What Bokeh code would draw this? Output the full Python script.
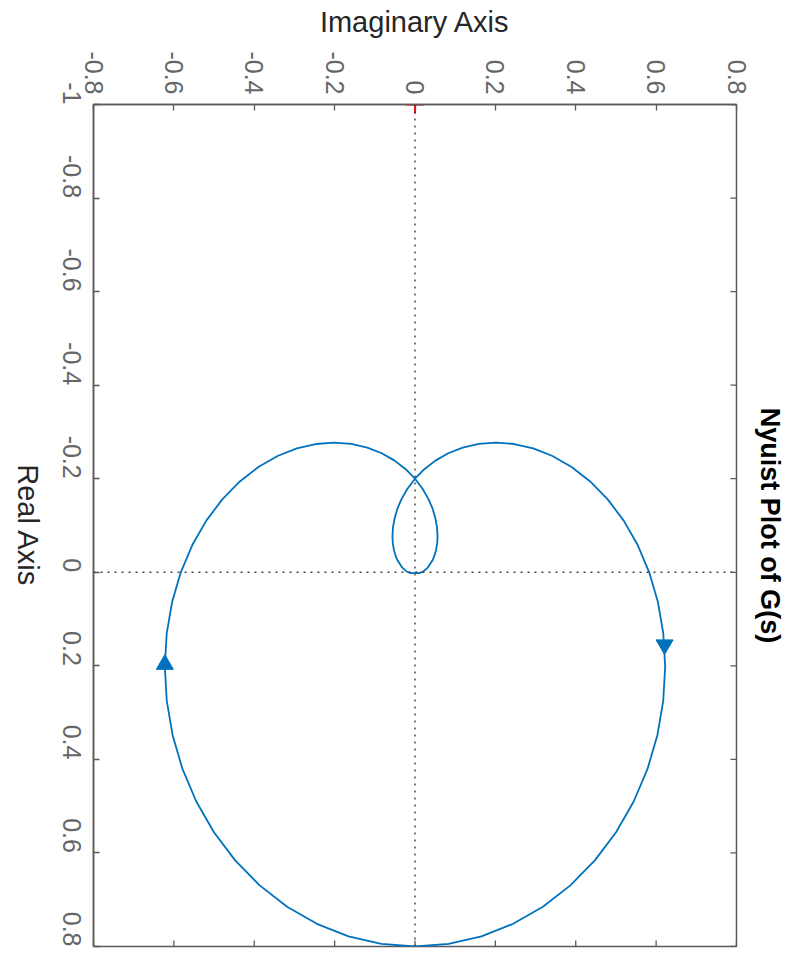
import math
from bokeh.plotting import figure
from bokeh.layouts import row
from bokeh.models import FixedTicker, Span, Range1d
from bokeh.core.properties import value
from bokeh.embed import file_html
from bokeh.resources import INLINE

# Nyquist data of G(s): real and imaginary parts, positive frequencies
re_pos = [0.8, 0.7945, 0.7782, 0.7515, 0.7150, 0.6694, 0.6159, 0.5557, 0.4900,
          0.4204, 0.3482, 0.2750, 0.2023, 0.1313, 0.0635, 0.0, -0.0582, -0.1104,
          -0.1558, -0.1941, -0.2250, -0.2485, -0.2648, -0.2742, -0.2773, -0.2745,
          -0.2666, -0.2544, -0.2387, -0.2203, -0.2000, -0.1786, -0.1569, -0.1354,
          -0.1146, -0.0952, -0.0773, -0.0612, -0.0471, -0.0351, -0.0250, -0.0105,
          -0.0023, 0.0019, 0.0018, 0.0006, 0.0]
im_pos = [0.0, -0.0835, -0.1654, -0.2442, -0.3183, -0.3865, -0.4475, -0.5003, -0.5442,
          -0.5786, -0.6031, -0.6177, -0.6225, -0.6179, -0.6044, -0.5828, -0.5542, -0.5193,
          -0.4795, -0.4359, -0.3897, -0.3421, -0.2941, -0.2469, -0.2014, -0.1585,
          -0.1187, -0.0827, -0.0507, -0.0232, 0.0, 0.0188, 0.0333, 0.0440,
          0.0510, 0.0549, 0.0561, 0.0551, 0.0523, 0.0482, 0.0433, 0.0323,
          0.0218, 0.0108, 0.0031, 0.0005, 0.0]
# negative frequencies (mirror branch)
re_neg = [0.8, 0.7945, 0.7782, 0.7515, 0.7150, 0.6694, 0.6159, 0.5557, 0.4900,
          0.4204, 0.3482, 0.2750, 0.2023, 0.1313, 0.0635, 0.0, -0.0582, -0.1104,
          -0.1558, -0.1941, -0.2250, -0.2485, -0.2648, -0.2742, -0.2773, -0.2745,
          -0.2666, -0.2544, -0.2387, -0.2203, -0.2000, -0.1786, -0.1569, -0.1354,
          -0.1146, -0.0952, -0.0773, -0.0612, -0.0471, -0.0351, -0.0250, -0.0105,
          -0.0023, 0.0019, 0.0018, 0.0006, 0.0]
im_neg = [0.0, 0.0835, 0.1654, 0.2442, 0.3183, 0.3865, 0.4475, 0.5003, 0.5442,
          0.5786, 0.6031, 0.6177, 0.6225, 0.6179, 0.6044, 0.5828, 0.5542, 0.5193,
          0.4795, 0.4359, 0.3897, 0.3421, 0.2941, 0.2469, 0.2014, 0.1585,
          0.1187, 0.0827, 0.0507, 0.0232, 0.0, -0.0188, -0.0333, -0.0440,
          -0.0510, -0.0549, -0.0561, -0.0551, -0.0523, -0.0482, -0.0433, -0.0323,
          -0.0218, -0.0108, -0.0031, -0.0005, 0.0]

# direction arrows
arrow_up_re = [0.197]
arrow_up_im = [-0.6225]
arrow_down_re = [0.155]
arrow_down_im = [0.621]

# critical point
crit_re = [-1.0]
crit_im = [0.0]

imag_ticks = [-0.8, -0.6, -0.4, -0.2, 0.0, 0.2, 0.4, 0.6, 0.8]
imag_labels = ["-0.8", "-0.6", "-0.4", "-0.2", "0", "0.2", "0.4", "0.6", "0.8"]
real_ticks = [-1.0, -0.8, -0.6, -0.4, -0.2, 0.0, 0.2, 0.4, 0.6, 0.8]
real_labels = ["-1", "-0.8", "-0.6", "-0.4", "-0.2", "0", "0.2", "0.4", "0.6", "0.8"]

title_text = "Nyuist Plot of G(s)"
x_title = "Imaginary Axis"
y_title = "Real Axis"

FONT = "Liberation Sans"
BLUE = "#0072BD"
GRAY = "#5a5a5a"

H = 967
TOP = 104
BOTTOM = 21

real_range = Range1d(0.8, -1.0)

p = figure(width=707, height=H,
           x_range=Range1d(-0.8, 0.8), y_range=real_range,
           x_axis_location="above", y_axis_location="left",
           output_backend="svg", toolbar_location=None, title=None,
           min_border_left=48, min_border_top=TOP, min_border_right=16,
           min_border_bottom=BOTTOM)
p.grid.visible = False
p.outline_line_color = GRAY
p.outline_line_width = 1.5
p.background_fill_color = "white"
p.border_fill_color = "white"

def style_axis(ax, ticks, labels, standoff):
    ax.ticker = FixedTicker(ticks=ticks)
    ax.major_label_overrides = {t: l for t, l in zip(ticks, labels)}
    ax.major_tick_in = 6
    ax.major_tick_out = 0
    ax.minor_tick_line_color = None
    ax.major_tick_line_color = GRAY
    ax.major_tick_line_width = 1.3
    ax.axis_line_color = GRAY
    ax.axis_line_width = 1.5
    ax.major_label_text_font = FONT
    ax.major_label_text_color = "#666666"
    ax.major_label_standoff = standoff
    ax.major_label_text_font_size = "25px"
    ax.major_label_orientation = -math.pi / 2

# top axis: imaginary
xa = p.xaxis[0]
style_axis(xa, imag_ticks, imag_labels, 10)
xa.axis_label = x_title
xa.axis_label_text_font = FONT
xa.axis_label_text_font_size = "29px"
xa.axis_label_text_font_style = "normal"
xa.axis_label_text_color = "#262626"
xa.axis_label_standoff = 10

# left axis: real
ya = p.yaxis[0]
style_axis(ya, real_ticks, real_labels, 22)

# inward ticks on the bottom and right edges of the box
p.scatter(imag_ticks, [0.8] * len(imag_ticks), marker="dash", angle=math.pi / 2,
          size=12, line_color=GRAY, line_width=1.3)
p.scatter([0.8] * len(real_ticks), real_ticks, marker="dash", size=12,
          line_color=GRAY, line_width=1.3)

# dotted zero lines
p.add_layout(Span(location=0, dimension="height", line_color="#444444",
                  line_dash="2 5", line_width=1.4))
p.add_layout(Span(location=0, dimension="width", line_color="#444444",
                  line_dash="2 5", line_width=1.4))

# curves (x = imaginary, y = real)
p.line(im_pos, re_pos, line_color=BLUE, line_width=1.8)
p.line(im_neg, re_neg, line_color=BLUE, line_width=1.8)
p.scatter(arrow_up_im, arrow_up_re, marker="triangle", size=17,
          fill_color=BLUE, line_color=BLUE)
p.scatter(arrow_down_im, arrow_down_re, marker="inverted_triangle", size=17,
          fill_color=BLUE, line_color=BLUE)
p.scatter(crit_im, crit_re, marker="cross", size=18, line_color="red",
          line_width=2)

# left strip holding the "Real Axis" label (reads top to bottom)
pl = figure(width=45, height=H, x_range=Range1d(0, 45), y_range=real_range,
            x_axis_type=None, y_axis_type=None, output_backend="svg",
            toolbar_location=None, title=None, min_border_left=0,
            min_border_right=0, min_border_top=TOP, min_border_bottom=BOTTOM)
pl.grid.visible = False
pl.outline_line_color = None
pl.text(x=[27], y=[-0.1], text=[y_title], angle=-math.pi / 2,
        text_align="center", text_baseline="middle",
        text_font=value(FONT), text_font_size="29px", text_color="#262626")

# right strip holding the title (reads top to bottom)
pr = figure(width=36, height=H, x_range=Range1d(0, 36), y_range=real_range,
            x_axis_type=None, y_axis_type=None, output_backend="svg",
            toolbar_location=None, title=None, min_border_left=0,
            min_border_right=0, min_border_top=TOP, min_border_bottom=BOTTOM)
pr.grid.visible = False
pr.outline_line_color = None
pr.text(x=[17], y=[-0.1], text=[title_text], angle=-math.pi / 2,
        text_align="center", text_baseline="middle",
        text_font=value(FONT), text_font_size="27px", text_font_style="bold",
        text_color="#000000")

layout = row(pl, p, pr)
open("out.html", "w").write(file_html(layout, INLINE))
